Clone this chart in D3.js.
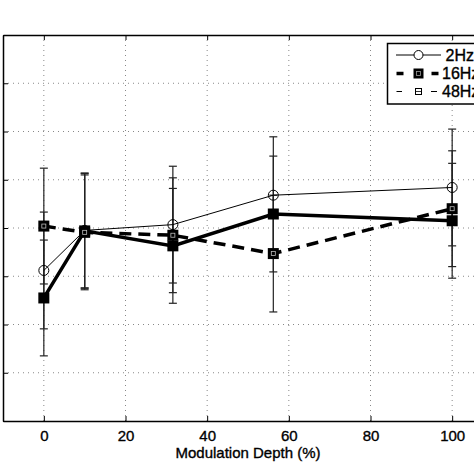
<!DOCTYPE html>
<html><head><meta charset="utf-8">
<script src="https://cdn.jsdelivr.net/npm/d3@7"></script>
<style>html,body{margin:0;padding:0;background:#fff;overflow:hidden}svg{display:block}</style>
</head><body>
<svg id="c" width="474" height="474"></svg>
<script>
const depths = [0, 10, 31.6, 56.2, 100];
const xTicks = [0, 20, 40, 60, 80, 100];
const yTicks = [0, 1, 2, 3, 4, 5, 6, 7, 8];
const seriesNames = ["2Hz", "16Hz", "48Hz"];
const mean2Hz  = [3.12, 3.95, 4.07, 4.68, 4.84];
const err2Hz   = [1.21, 1.19, 1.21, 1.21, 1.21];
const mean16Hz = [4.04, 3.91, 3.85, 3.47, 4.40];
const err16Hz  = [1.20, 1.19, 1.19, 1.21, 1.20];
const mean48Hz = [2.55, 3.94, 3.63, 4.29, 4.15];
const err48Hz  = [1.20, 1.19, 1.19, 1.20, 1.19];

const svg = d3.select("#c");
const L = 3, R = 493, T = 35, B = 421;
const x = d3.scaleLinear().domain([-10, 110]).range([L, R]);
const y = d3.scaleLinear().domain([0, 8]).range([B, T]);
const font = "'Liberation Sans', Arial, sans-serif";

// grid
const g = svg.append("g");
g.selectAll("line.vg").data(xTicks).join("line")
  .attr("x1", d => x(d)).attr("x2", d => x(d)).attr("y1", T).attr("y2", B)
  .attr("stroke", "#888").attr("stroke-width", 1).attr("stroke-dasharray", "1,4");
g.selectAll("line.hg").data(yTicks.slice(1, -1)).join("line")
  .attr("x1", L).attr("x2", R).attr("y1", d => y(d)).attr("y2", d => y(d))
  .attr("stroke", "#888").attr("stroke-width", 1).attr("stroke-dasharray", "1,4");

// axes
const xb = svg.append("g").attr("transform", `translate(0,${B})`)
  .call(d3.axisBottom(x).tickValues(xTicks).tickSize(-5).tickPadding(9).tickSizeOuter(0));
const xt = svg.append("g").attr("transform", `translate(0,${T})`)
  .call(d3.axisTop(x).tickValues(xTicks).tickSize(-5).tickFormat("").tickSizeOuter(0));
const yl = svg.append("g").attr("transform", `translate(${L},0)`)
  .call(d3.axisLeft(y).tickValues(yTicks).tickSize(-5).tickPadding(8).tickSizeOuter(0));
[xb, xt, yl].forEach(a => {
  a.select(".domain").attr("stroke", "#000").attr("stroke-width", 1.5);
  a.selectAll(".tick line").attr("stroke", "#000").attr("stroke-width", 1);
  a.selectAll("text").attr("font-family", font).attr("font-size", 15).attr("fill", "#000")
    .attr("stroke", "#000").attr("stroke-width", 0.35);
});

svg.append("text").attr("x", (L + R) / 2).attr("y", 458).attr("text-anchor", "middle")
  .attr("font-family", font).attr("font-size", 15)
  .attr("stroke", "#000").attr("stroke-width", 0.35).text("Modulation Depth (%)");

const series = [
  {name: seriesNames[0], mean: mean2Hz, err: err2Hz, w: 1, dash: null, mk: "circle"},
  {name: seriesNames[2], mean: mean48Hz, err: err48Hz, w: 3.5, dash: null, mk: "fsq"},
  {name: seriesNames[1], mean: mean16Hz, err: err16Hz, w: 3.5, dash: "12,7", mk: "fsq2"}
];

// error bars
series.forEach(s => {
  const eg = svg.append("g");
  depths.forEach((d, i) => {
    const cx = x(d), top = y(s.mean[i] + s.err[i]), bot = y(s.mean[i] - s.err[i]);
    eg.append("line").attr("x1", cx).attr("x2", cx).attr("y1", top).attr("y2", bot)
      .attr("stroke", "#222").attr("stroke-width", 1.2);
    [top, bot].forEach(yy => eg.append("line").attr("x1", cx - 4).attr("x2", cx + 4)
      .attr("y1", yy).attr("y2", yy).attr("stroke", "#222").attr("stroke-width", 1.2));
  });
});

const line = d3.line().x((d, i) => x(depths[i])).y(d => y(d));
series.forEach(s => {
  svg.append("path").datum(s.mean).attr("d", line).attr("fill", "none")
    .attr("stroke", "#000").attr("stroke-width", s.w)
    .attr("stroke-dasharray", s.dash);
});
series.forEach(s => {
  const mg = svg.append("g");
  s.mean.forEach((v, i) => {
    const cx = x(depths[i]), cy = y(v);
    if (s.mk === "circle") {
      mg.append("circle").attr("cx", cx).attr("cy", cy).attr("r", 5)
        .attr("fill", "none").attr("stroke", "#000").attr("stroke-width", 1);
    } else {
      mg.append("rect").attr("x", cx - 5.5).attr("y", cy - 5.5).attr("width", 11).attr("height", 11)
        .attr("fill", "#000");
      if (s.mk === "fsq2") mg.append("rect").attr("x", cx - 2).attr("y", cy - 2).attr("width", 4).attr("height", 4)
        .attr("fill", "none").attr("stroke", "#bbb").attr("stroke-width", 0.8);
    }
  });
});

// legend
const lg = svg.append("g");
lg.append("rect").attr("x", 387.5).attr("y", 43.5).attr("width", 120).attr("height", 60.5)
  .attr("fill", "#fff").attr("stroke", "#000").attr("stroke-width", 1.5);
const legRows = [
  {name: seriesNames[0], y: 55, w: 1, segs: [[396, 441]], mk: "circle", tx: 445.5},
  {name: seriesNames[1], y: 73.5, w: 3.5, segs: [[396.5, 403.5], [431.5, 438.5]], mk: "fsq", tx: 442},
  {name: seriesNames[2], y: 91.5, w: 1, segs: [[396.5, 402], [431, 437]], mk: "osq", tx: 442}
];
legRows.forEach(r => {
  r.segs.forEach(sg => lg.append("line").attr("x1", sg[0]).attr("x2", sg[1]).attr("y1", r.y).attr("y2", r.y)
    .attr("stroke", "#000").attr("stroke-width", r.w));
  const cx = 418.5;
  if (r.mk === "circle") lg.append("circle").attr("cx", cx).attr("cy", r.y).attr("r", 4.5)
    .attr("fill", "#fff").attr("stroke", "#000").attr("stroke-width", 1);
  else if (r.mk === "fsq") {
    lg.append("rect").attr("x", cx - 5).attr("y", r.y - 5).attr("width", 10).attr("height", 10).attr("fill", "#000");
    lg.append("rect").attr("x", cx - 2).attr("y", r.y - 2).attr("width", 4).attr("height", 4)
      .attr("fill", "none").attr("stroke", "#999").attr("stroke-width", 0.8);
  } else {
    lg.append("rect").attr("x", cx - 3).attr("y", r.y - 3).attr("width", 6).attr("height", 6)
      .attr("fill", "#fff").attr("stroke", "#000").attr("stroke-width", 1);
    lg.append("line").attr("x1", cx - 3).attr("x2", cx + 3).attr("y1", r.y).attr("y2", r.y)
      .attr("stroke", "#000").attr("stroke-width", 0.8);
  }
  lg.append("text").attr("x", r.tx).attr("y", r.y + 5.5).attr("font-family", font)
    .attr("font-size", 16).attr("stroke", "#000").attr("stroke-width", 0.35).text(r.name);
});
</script>
</body></html>
